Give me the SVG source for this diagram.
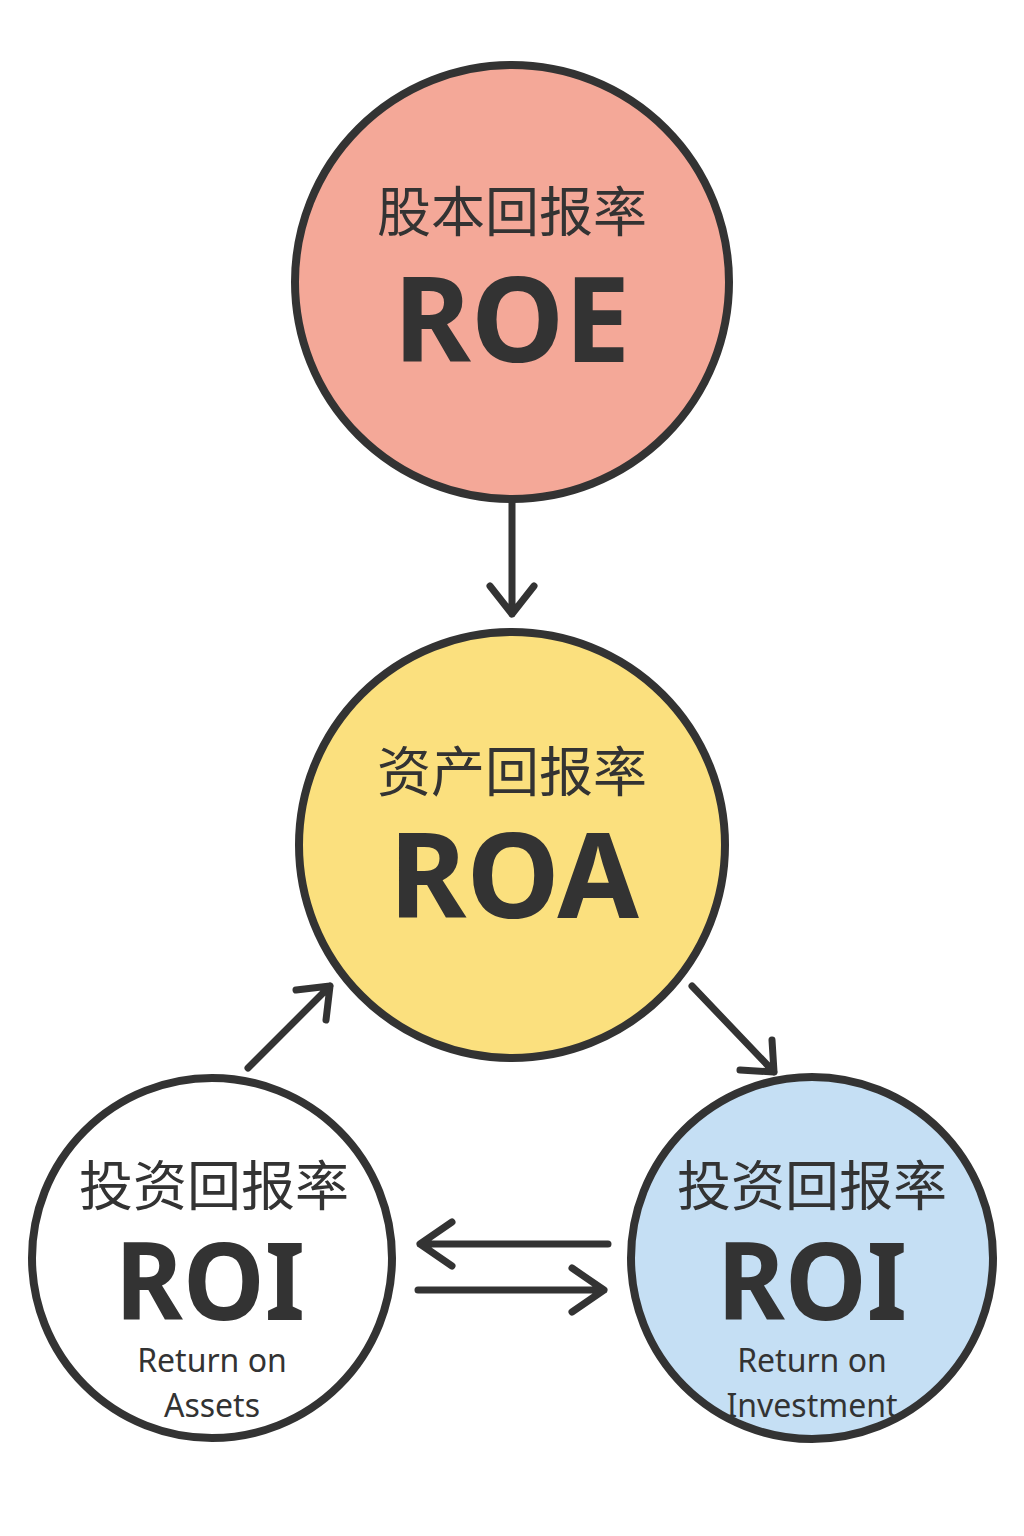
<svg xmlns="http://www.w3.org/2000/svg" width="1024" height="1536" viewBox="0 0 1024 1536">
<style>
.c{stroke:#333;stroke-width:8}
.o{fill:none;stroke:#333;stroke-width:8}
.cn{font-family:"Noto Sans CJK SC","Noto Sans",sans-serif;font-size:54px;fill:#333;text-anchor:middle}
.big{font-family:"Noto Sans","Liberation Sans",sans-serif;font-weight:bold;font-size:118px;fill:#333;text-anchor:middle}
.roi{font-size:108px}
.sm{font-family:"Noto Sans","Liberation Sans",sans-serif;font-size:32px;fill:#333;text-anchor:middle}
.l{fill:none;stroke:#333;stroke-width:7;stroke-linecap:round;stroke-linejoin:round}
</style>
<rect width="1024" height="1536" fill="#fff"/>
<g id="roe">
<circle cx="512" cy="282" r="217" fill="#F4A898" class="c"/>
<text x="512" y="232" class="cn">股本回报率</text>
<text x="512" y="362" class="big">ROE</text>
</g>
<g id="roa">
<circle cx="512" cy="845" r="213" fill="#FBE07E" class="c"/>
<text x="512" y="792" class="cn">资产回报率</text>
<text x="514" y="918" class="big">ROA</text>
</g>
<g id="roi-left">
<circle cx="212" cy="1258" r="180" fill="#fff"/>
<text x="214" y="1206" class="cn">投资回报率</text>
<text x="210" y="1320" class="big roi" textLength="190" lengthAdjust="spacingAndGlyphs">ROI</text>
<text x="212" y="1372" class="sm">Return on</text>
<text x="212" y="1417" class="sm">Assets</text>
<circle cx="212" cy="1258" r="180" class="o"/>
</g>
<g id="roi-right">
<circle cx="812" cy="1258" r="181" fill="#C5DFF4"/>
<text x="812" y="1206" class="cn">投资回报率</text>
<text x="812" y="1320" class="big roi" textLength="190" lengthAdjust="spacingAndGlyphs">ROI</text>
<text x="812" y="1372" class="sm">Return on</text>
<text x="812" y="1417" class="sm">Investment</text>
<circle cx="812" cy="1258" r="181" class="o"/>
</g>
<g id="connectors">
<path class="l" d="M512 502V614M490 586L512 614L534 586"/>
<path class="l" d="M248 1068L330 986M296 990L330 986L326 1020"/>
<path class="l" d="M692 986L774 1072M740 1070L774 1072L772 1040"/>
<path class="l" d="M608 1244H420M452 1222L420 1244L452 1266"/>
<path class="l" d="M418 1290H604M572 1268L604 1290L572 1312"/>
</g>
</svg>
